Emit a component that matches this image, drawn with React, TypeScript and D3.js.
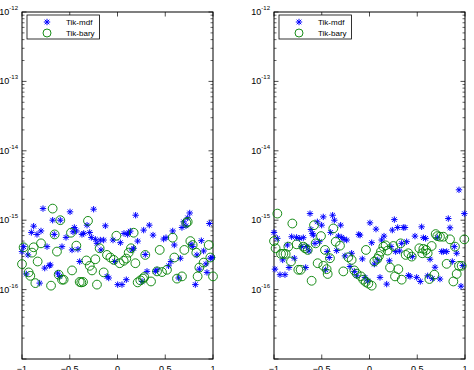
import * as d3 from 'd3';

// Left panel, "Tik-mdf" (blue asterisks)
const leftMdfX = [-1.0, -0.983, -0.955, -0.937, -0.902, -0.878, -0.843, -0.815, -0.801, -0.78, -0.762, -0.738, -0.714, -0.703, -0.679, -0.662, -0.627, -0.606, -0.599, -0.581, -0.539, -0.497, -0.476, -0.466, -0.452, -0.431, -0.414, -0.396, -0.372, -0.354, -0.319, -0.291, -0.274, -0.25, -0.232, -0.215, -0.18, -0.173, -0.145, -0.127, -0.11, -0.092, -0.047, -0.03, 0.002, 0.03, 0.047, 0.068, 0.092, 0.106, 0.117, 0.134, 0.152, 0.169, 0.19, 0.211, 0.257, 0.274, 0.291, 0.309, 0.333, 0.372, 0.396, 0.414, 0.483, 0.508, 0.535, 0.56, 0.578, 0.595, 0.64, 0.658, 0.675, 0.693, 0.717, 0.735, 0.756, 0.77, 0.787, 0.815, 0.832, 0.857, 0.878, 0.902, 0.927, 0.937, 0.962, 0.972, 0.99];
const leftMdfY = [3.53e-16, 4.16e-16, 1.68e-16, 3.16e-16, 6.66e-16, 8.2e-16, 6.24e-16, 1.24e-16, 7.0e-16, 1.47e-15, 2.04e-16, 4.16e-16, 2.22e-16, 2.27e-16, 1.0e-15, 6.24e-16, 1.73e-16, 1.55e-16, 1.0e-15, 4.16e-16, 5.65e-16, 1.32e-15, 3.73e-16, 6.81e-16, 7.85e-16, 7.0e-16, 3.81e-16, 2.54e-16, 6.24e-16, 6.45e-16, 8.48e-16, 6.66e-16, 5.65e-16, 1.44e-15, 5.3e-16, 4.64e-16, 5.18e-16, 3.73e-16, 5.18e-16, 8.3e-16, 1.55e-16, 1.47e-16, 5.18e-16, 2.54e-16, 1.18e-16, 4.74e-16, 1.18e-16, 6.45e-16, 1.39e-16, 6.24e-16, 6.6e-16, 6.96e-16, 3.73e-16, 3.94e-16, 1.18e-15, 5.0e-16, 1.31e-16, 7.2e-16, 3.2e-16, 1.83e-16, 8.48e-16, 6.1e-16, 1.83e-16, 1.93e-16, 5.35e-16, 5.6e-16, 2.2e-16, 2.54e-16, 7.0e-16, 4.39e-16, 1.47e-16, 2.83e-16, 7.85e-16, 9.47e-16, 8.3e-16, 1.08e-15, 1.27e-15, 4.49e-16, 4.16e-16, 1.18e-16, 3.16e-16, 1.97e-16, 5.07e-16, 3.6e-16, 2.35e-16, 1.77e-16, 8.96e-16, 2.83e-16, 2.9e-16];

// Left panel, "Tik-bary" (green circles)
const leftBaryX = [-1.0, -0.983, -0.93, -0.913, -0.895, -0.878, -0.86, -0.836, -0.801, -0.696, -0.679, -0.658, -0.634, -0.599, -0.616, -0.581, -0.564, -0.487, -0.476, -0.431, -0.396, -0.379, -0.361, -0.326, -0.309, -0.291, -0.267, -0.232, -0.215, -0.187, -0.145, -0.11, -0.075, -0.04, -0.012, 0.023, 0.065, 0.092, 0.117, 0.141, 0.169, 0.187, 0.211, 0.239, 0.267, 0.281, 0.291, 0.351, 0.414, 0.442, 0.466, 0.518, 0.578, 0.595, 0.623, 0.675, 0.7, 0.721, 0.735, 0.763, 0.787, 0.825, 0.839, 0.857, 0.902, 0.955, 0.972, 1.0];
const leftBaryY = [2.33e-16, 4.07e-16, 1.77e-16, 1.58e-16, 3.41e-16, 4.07e-16, 1.24e-16, 2.54e-16, 4.64e-16, 1.14e-16, 1.47e-15, 6.24e-16, 3.53e-16, 1.0e-15, 1.64e-16, 1.39e-16, 1.39e-16, 6.6e-16, 1.89e-16, 4.3e-16, 1.29e-16, 1.27e-16, 1.29e-16, 2.63e-16, 9.78e-16, 2.2e-16, 1.89e-16, 2.74e-16, 1.18e-16, 3.94e-16, 1.77e-16, 3.16e-16, 2.9e-16, 2.68e-16, 5.97e-16, 2.4e-16, 2.6e-16, 2.8e-16, 3.41e-16, 3.94e-16, 6.6e-16, 2.4e-16, 1.27e-16, 1.36e-16, 1.44e-16, 1.52e-16, 3.16e-16, 1.31e-16, 1.83e-16, 3.73e-16, 1.79e-16, 1.93e-16, 5.6e-16, 2.9e-16, 1.44e-16, 1.55e-16, 3.73e-16, 9.16e-16, 9.47e-16, 5.0e-16, 4.39e-16, 3.41e-16, 1.55e-16, 2.08e-16, 2.45e-16, 4.39e-16, 2.9e-16, 1.55e-16];

// Right panel, "Tik-mdf"
const rightMdfX = [-1.0, -0.99, -0.965, -0.937, -0.909, -0.885, -0.86, -0.843, -0.815, -0.787, -0.763, -0.735, -0.71, -0.693, -0.668, -0.658, -0.634, -0.623, -0.613, -0.599, -0.588, -0.571, -0.546, -0.525, -0.501, -0.484, -0.459, -0.442, -0.421, -0.407, -0.386, -0.368, -0.344, -0.326, -0.302, -0.291, -0.267, -0.257, -0.239, -0.204, -0.187, -0.159, -0.134, -0.113, -0.099, -0.075, -0.047, -0.019, 0.005, 0.023, 0.051, 0.068, 0.086, 0.11, 0.127, 0.152, 0.18, 0.208, 0.225, 0.239, 0.26, 0.274, 0.295, 0.316, 0.337, 0.354, 0.372, 0.389, 0.407, 0.424, 0.449, 0.476, 0.494, 0.532, 0.546, 0.564, 0.588, 0.609, 0.634, 0.658, 0.686, 0.71, 0.738, 0.756, 0.773, 0.808, 0.825, 0.843, 0.867, 0.888, 0.913, 0.937, 0.958, 0.976, 0.993];
const rightMdfY = [6.66e-16, 1.97e-16, 5.47e-16, 1.64e-16, 2.68e-16, 1.64e-16, 4.39e-16, 2.08e-16, 5.78e-16, 2.83e-16, 5.65e-16, 5.47e-16, 4.16e-16, 5.6e-16, 2.08e-16, 4.16e-16, 3.6e-16, 1.245e-15, 7.36e-16, 6.45e-16, 6.1e-16, 4.64e-16, 9.47e-16, 4.9e-16, 8.48e-16, 1.116e-15, 1.93e-16, 3.53e-16, 2.9e-16, 6.66e-16, 1.18e-15, 1.0e-15, 3.65e-16, 5.9e-16, 8.48e-16, 5.65e-16, 5.3e-16, 3.06e-16, 5.18e-16, 2.15e-16, 3.34e-16, 1.83e-16, 1.58e-16, 6.24e-16, 6.1e-16, 2.77e-16, 1.5e-16, 1.34e-16, 9.16e-16, 4.74e-16, 2.33e-16, 7.44e-16, 2.68e-16, 1.5e-16, 5.18e-16, 5.9e-16, 1.2e-16, 2.6e-16, 4.16e-16, 7.2e-16, 1.02e-15, 3.53e-16, 7.85e-16, 3.6e-16, 4.64e-16, 7.85e-16, 7.85e-16, 4.9e-16, 1.6e-16, 1.55e-16, 2.99e-16, 5.9e-16, 1.5e-16, 1.31e-16, 8.03e-16, 5.6e-16, 5.47e-16, 1.58e-16, 2.74e-16, 1.44e-16, 2.1e-16, 5.6e-16, 1.42e-16, 3.53e-16, 3.53e-16, 3.53e-16, 1.056e-15, 7.77e-16, 2.54e-16, 4.16e-16, 3.34e-16, 2.74e-15, 1.12e-16, 2.22e-16, 1.245e-15];

// Right panel, "Tik-bary"
const rightBaryX = [-1.0, -0.983, -0.965, -0.927, -0.902, -0.878, -0.85, -0.822, -0.808, -0.763, -0.745, -0.721, -0.693, -0.675, -0.647, -0.606, -0.581, -0.564, -0.543, -0.508, -0.483, -0.466, -0.449, -0.438, -0.414, -0.379, -0.354, -0.309, -0.274, -0.222, -0.187, -0.159, -0.134, -0.089, -0.065, -0.04, -0.012, 0.023, -0.037, 0.051, 0.082, 0.099, 0.12, 0.145, 0.169, 0.19, 0.215, 0.25, 0.267, 0.302, 0.326, 0.337, 0.379, 0.407, 0.442, 0.522, 0.553, 0.564, 0.592, 0.609, 0.627, 0.651, 0.679, 0.693, 0.71, 0.738, 0.773, 0.808, 0.843, 0.878, 0.895, 0.913, 0.937, 0.965, 0.993];
const rightBaryY = [5.0e-16, 3.94e-16, 1.245e-15, 3.27e-16, 3.27e-16, 3.27e-16, 4.16e-16, 2.54e-16, 8.96e-16, 4.49e-16, 1.93e-16, 1.93e-16, 4.16e-16, 3.94e-16, 3.73e-16, 1.34e-16, 8.48e-16, 4.64e-16, 2.4e-16, 5.9e-16, 2.2e-16, 3.73e-16, 1.97e-16, 1.68e-16, 2.83e-16, 7.6e-16, 4.9e-16, 4.3e-16, 1.83e-16, 2.93e-16, 2.68e-16, 1.89e-16, 1.7e-16, 1.55e-16, 1.39e-16, 1.29e-16, 1.22e-16, 1.14e-16, 3.73e-16, 2.54e-16, 2.77e-16, 3.06e-16, 3.53e-16, 4.16e-16, 4.34e-16, 3.65e-16, 2.08e-16, 4.25e-16, 1.55e-16, 1.97e-16, 4.64e-16, 1.39e-16, 3.16e-16, 3.34e-16, 2.99e-16, 3.94e-16, 3.34e-16, 3.86e-16, 3.73e-16, 3.34e-16, 1.42e-16, 4.25e-16, 1.64e-16, 6.31e-16, 5.9e-16, 5.78e-16, 5.78e-16, 2.35e-16, 5.3e-16, 1.31e-16, 4.16e-16, 1.68e-16, 2.2e-16, 2.2e-16, 5.3e-16];

const seriesNames = ['Tik-mdf', 'Tik-bary'];
const xTicks = [-1, -0.5, 0, 0.5, 1];
const yDecades = [-17, -16, -15, -14, -13, -12];
const yLabelled = [-16, -15, -14, -13, -12];

const BLUE = '#0000ff';
const GREEN = '#008000';
const FONT = 'Liberation Sans, Arial, Helvetica, sans-serif';

function star(cx: number, cy: number, r: number) {
  const d = r * 0.72;
  return `M${cx - r},${cy}H${cx + r}M${cx},${cy - r}V${cy + r}M${cx - d},${cy - d}L${cx + d},${cy + d}M${cx - d},${cy + d}L${cx + d},${cy - d}`;
}

function Panel({ left, right, mdfX, mdfY, baryX, baryY }: {
  left: number; right: number; mdfX: number[]; mdfY: number[]; baryX: number[]; baryY: number[];
}) {
  const top = 12;
  const bottom = 359;
  const x = d3.scaleLinear().domain([-1, 1]).range([left, right]);
  const y = d3.scaleLog().domain([1e-17, 1e-12]).range([bottom, top]);

  const minor: number[] = [];
  for (const e of yDecades.slice(0, -1)) for (let m = 2; m <= 9; m++) minor.push(m * Math.pow(10, e));

  const lx = left + 5;
  return (
    <g>
      {/* ticks */}
      {minor.map((v, i) => (
        <g key={'m' + i} stroke="#000" strokeWidth={0.6}>
          <line x1={left} x2={left + 2.5} y1={y(v)} y2={y(v)} />
          <line x1={right} x2={right - 2.5} y1={y(v)} y2={y(v)} />
        </g>
      ))}
      {yDecades.map((e) => (
        <g key={'d' + e} stroke="#000" strokeWidth={0.7}>
          <line x1={left} x2={left + 4.5} y1={y(Math.pow(10, e))} y2={y(Math.pow(10, e))} />
          <line x1={right} x2={right - 4.5} y1={y(Math.pow(10, e))} y2={y(Math.pow(10, e))} />
        </g>
      ))}
      {yLabelled.map((e) => (
        <text key={'l' + e} x={left - 4} y={y(Math.pow(10, e)) + 3} textAnchor="end" fontSize={9} fontFamily={FONT}>
          10<tspan dy={-5} fontSize={6}>{`-${-e}`}</tspan>
        </text>
      ))}
      {xTicks.map((t) => (
        <g key={'x' + t}>
          <line x1={x(t)} x2={x(t)} y1={bottom} y2={bottom - 4.5} stroke="#000" strokeWidth={0.7} />
          <line x1={x(t)} x2={x(t)} y1={top} y2={top + 4.5} stroke="#000" strokeWidth={0.7} />
          <text x={x(t)} y={bottom + 13} textAnchor="middle" fontSize={9} fontFamily={FONT}>
            {t === 0 ? '0' : String(t).replace('-', '\u2212')}
          </text>
        </g>
      ))}
      <rect x={left} y={top} width={right - left} height={bottom - top} fill="none" stroke="#000" strokeWidth={1} />

      {/* data */}
      <path
        d={mdfX.map((v, i) => star(x(v), y(mdfY[i]), 3.2)).join('')}
        stroke={BLUE}
        strokeWidth={1}
        fill="none"
      />
      {baryX.map((v, i) => (
        <circle key={'c' + i} cx={x(v)} cy={y(baryY[i])} r={4.4} fill="none" stroke={GREEN} strokeWidth={0.9} />
      ))}

      {/* legend */}
      <rect x={lx} y={15} width={72.5} height={24} fill="#fff" stroke="#000" strokeWidth={0.8} />
      <path d={star(lx + 20, 22, 3.2)} stroke={BLUE} strokeWidth={1} fill="none" />
      <circle cx={lx + 20} cy={33} r={4} fill="none" stroke={GREEN} strokeWidth={0.9} />
      {seriesNames.map((s, i) => (
        <text key={s} x={lx + 39} y={25 + i * 10.5} fontSize={8} fontFamily={FONT}>{s}</text>
      ))}
    </g>
  );
}

export default function App() {
  return (
    <svg width={474} height={370} style={{ position: 'absolute', left: 0, top: 0, background: '#fff' }}>
      <rect width={474} height={370} fill="#fff" />
      <Panel left={22} right={213} mdfX={leftMdfX} mdfY={leftMdfY} baryX={leftBaryX} baryY={leftBaryY} />
      <Panel left={274} right={465} mdfX={rightMdfX} mdfY={rightMdfY} baryX={rightBaryX} baryY={rightBaryY} />
    </svg>
  );
}
